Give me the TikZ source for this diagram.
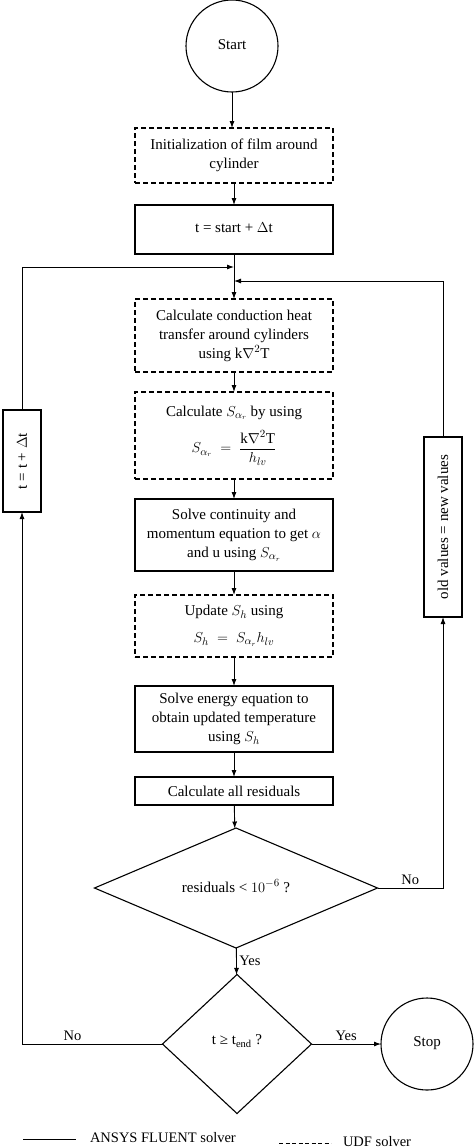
\documentclass[tikz,border=0pt]{standalone}
\usepackage{amsmath}
\usepackage{fontspec}
\setmainfont{Liberation Serif}
\usetikzlibrary{shapes.geometric,arrows.meta}
\begin{document}
\begin{tikzpicture}[x=1pt,y=-1pt,
  font=\fontsize{15}{19}\selectfont,
  every node/.style={inner sep=0pt,outer sep=0pt},
  line width=1.1pt,
  solidbox/.style={draw,rectangle,minimum width=198pt,align=center},
  dashbox/.style={draw,rectangle,dashed,dash pattern=on 5pt off 3pt,minimum width=198pt,align=center},
  sidebox/.style={draw,rectangle,minimum width=38pt},
  decision/.style={draw,diamond,aspect=1},
  term/.style={draw,circle,minimum size=92pt},
  arr/.style={-{Latex[length=7pt,width=5pt]},line width=0.9pt},
  conn/.style={line width=0.9pt},
  lbl/.style={font=\fontsize{14.5}{17}\selectfont}
]
\useasboundingbox (0,0) rectangle (474,1148);

\node[term] (start) at (232,46) {\raisebox{3pt}{Start}};
\node[dashbox,minimum height=55pt] (init) at (234,155.5) {Initialization of film around\\cylinder};
\node[solidbox,minimum height=49pt] (tstep) at (234,229.5) {\raisebox{4pt}{t = start + $\Delta$t}};
\node[dashbox,minimum height=73pt] (cond) at (234,335.5) {Calculate conduction heat\\transfer around cylinders\\using k$\nabla^2$T};
\node[dashbox,minimum height=87pt] (calcS) at (234,435.5) {Calculate $S_{\alpha_r}$ by using\\[10pt]$S_{\alpha_r} \;=\; \dfrac{\mathrm{k}\nabla^2\mathrm{T}}{h_{lv}}$};
\node[solidbox,minimum height=72pt] (solve) at (234,535) {Solve continuity and\\momentum equation to get $\alpha$\\and u using $S_{\alpha_r}$};
\node[dashbox,minimum height=62pt] (upd) at (234,626) {Update $S_h$ using\\[8pt]$S_h \;=\; S_{\alpha_r}h_{lv}$};
\node[solidbox,minimum height=66pt] (energy) at (234,719) {Solve energy equation to\\obtain updated temperature\\using $S_h$};
\node[solidbox,minimum height=28pt] (resid) at (234,791) {Calculate all residuals};
\node[decision,minimum width=283pt,minimum height=120pt,aspect=2.36] (dec1) at (236,888) {};
\node at (236,886) {residuals < $10^{-6}$ ?};
\node[decision,minimum width=149pt,minimum height=139pt,aspect=1.07] (dec2) at (237,1044) {};
\node at (237,1041) {t ≥ t\textsubscript{end} ?};
\node[term] (stop) at (427,1044) {\raisebox{4pt}{Stop}};
\node[sidebox,minimum height=102pt] (tinc) at (22,461) {\rotatebox{90}{t = t + $\Delta$t}};
\node[sidebox,minimum height=180pt] (oldnew) at (443,527) {\rotatebox{90}{old values = new values}};

\coordinate (jl) at (234,267);
\coordinate (jr) at (234,281);

\draw[arr] (start) -- (start |- init.north);
\draw[arr] (init) -- (tstep);
\draw[arr] (tstep) -- (cond);
\draw[arr] (cond) -- (calcS);
\draw[arr] (calcS) -- (solve);
\draw[arr] (solve) -- (upd);
\draw[arr] (upd) -- (energy);
\draw[arr] (energy) -- (resid);
\draw[arr] (resid) -- (dec1);
\draw[arr] (dec1) -- node[right=3pt,lbl,yshift=1pt] {Yes} (dec2);
\draw[arr] (dec1.east) -| (oldnew.south) node[pos=0.25,above=3pt,lbl] {No};
\draw[arr] (oldnew.north) |- (jr);
\draw[arr] (dec2.west) -| (tinc.south) node[pos=0.32,above=3pt,lbl] {No};
\draw[arr] (tinc.north) |- (jl);
\draw[arr] (dec2.east) -- node[above=3pt,lbl] {Yes} (stop.west);

% legend
\coordinate (l1a) at (23,1139);
\coordinate (l1b) at (76,1139);
\draw[conn,line width=0.6pt] (l1a) -- (l1b);
\node[anchor=west,lbl] (leg1) at (90,1138) {ANSYS FLUENT solver};
\coordinate (l2a) at (279,1143);
\coordinate (l2b) at (331,1143);
\draw[conn,line width=0.6pt,dash pattern=on 4pt off 2.5pt] (l2a) -- (l2b);
\node[anchor=west,lbl] (leg2) at (343,1142) {UDF solver};
\end{tikzpicture}
\end{document}
